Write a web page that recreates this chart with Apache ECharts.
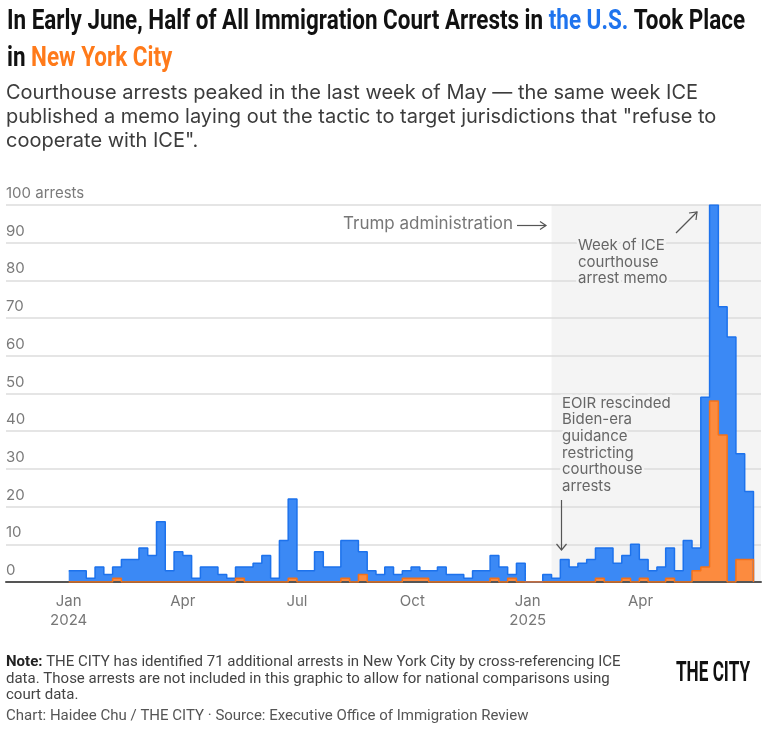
<!DOCTYPE html>
<html>
<head>
<meta charset="utf-8">
<script src="https://cdn.jsdelivr.net/npm/echarts@6/dist/echarts.min.js"></script>
<style>
  html, body { margin: 0; padding: 0; background: #fff; }
  #chart { width: 768px; height: 733px; }
</style>
</head>
<body>
<div id="chart"></div>
<script>
// weekly courthouse arrests, weeks starting Monday 2024-01-01
const firstWeek = Date.UTC(2024, 0, 1)
const usArrests2024 = [3, 3, 1, 4, 2, 4, 6, 6, 9, 7, 16, 3, 8, 7, 1, 4, 4, 2, 1, 4, 4, 5, 7, 1, 11, 22,
  3, 3, 8, 4, 4, 11, 11, 8, 3, 2, 4, 2, 3, 4, 3, 3, 4, 2, 2, 1, 3, 3, 7, 4, 2, 5]
const usArrests2025 = [0, 0, 2, 1, 6, 4, 5, 6, 9, 9, 5, 7, 10, 6, 3, 4, 9, 3, 11, 9, 49, 100, 73, 65, 34, 24]
const nycArrests2024 = [0, 0, 0, 0, 0, 1, 0, 0, 0, 0, 0, 0, 0, 0, 0, 0, 0, 0, 0, 1, 0, 0, 0, 0, 0, 1,
  0, 0, 0, 0, 0, 1, 0, 2, 0, 0, 0, 0, 1, 1, 1, 0, 0, 0, 0, 0, 0, 0, 1, 0, 1, 0]
const nycArrests2025 = [0, 0, 0, 0, 0, 0, 0, 0, 1, 0, 0, 1, 0, 1, 0, 0, 1, 0, 0, 3, 4, 48, 39, 0, 6, 6]
const tickDates = [Date.UTC(2024, 0, 1), Date.UTC(2024, 3, 1), Date.UTC(2024, 6, 1),
  Date.UTC(2024, 9, 1), Date.UTC(2025, 0, 1), Date.UTC(2025, 3, 1)]
const tickLabels = ['Jan\n2024', 'Apr', 'Jul', 'Oct', 'Jan\n2025', 'Apr']
const trumpStart = Date.UTC(2025, 0, 20)
const xMin = Date.UTC(2023, 10, 12)
const xMax = Date.UTC(2025, 6, 6)

const WEEK = 7 * 864e5
const usArrests = usArrests2024.concat(usArrests2025)
const nycArrests = nycArrests2024.concat(nycArrests2025)
// step 'end' keeps each week's value until the next week starts
const toSteps = vals => vals.map((v, i) => [firstWeek + i * WEEK, v])
  .concat([[firstWeek + vals.length * WEEK, 0]])

const sans = 'Inter, "Noto Sans", sans-serif'
const heavy = 'Roboto, "Liberation Sans", sans-serif'

// squeeze the bold headline font to the condensed width of the original
const ctx = document.createElement('canvas').getContext('2d')
const squeeze = (text, font, width) => {
  ctx.font = font
  return width / ctx.measureText(text).width
}
const titleLine1 = 'In Early June, Half of All Immigration Court Arrests in the U.S. Took Place'
const titleScale = squeeze(titleLine1, 'bold 28px ' + heavy, 738)
const logoScale = squeeze('THE CITY', 'bold 28px ' + heavy, 74)

const halo = (x, y, text, size, lh) => [
  {
    type: 'text', x, y, z: 10, silent: true,
    style: { text, fontFamily: sans, fontSize: size, lineHeight: lh, fill: '#f4f4f4', stroke: '#f4f4f4', lineWidth: 5 }
  },
  {
    type: 'text', x, y, z: 11, silent: true,
    style: { text, fontFamily: sans, fontSize: size, lineHeight: lh, fill: '#666' }
  }
]
const arrow = points => ({
  type: 'polyline', z: 11, silent: true,
  shape: { points },
  style: { stroke: '#555', lineWidth: 1.2, fill: null }
})

const chart = echarts.init(document.getElementById('chart'))
const option = {
  animation: false,
  grid: { left: 6, right: 7, top: 205, bottom: 151 },
  xAxis: {
    type: 'value',
    min: xMin,
    max: xMax,
    z: 3,
    axisLine: { lineStyle: { color: '#555', width: 2 } },
    axisTick: { show: false },
    splitLine: { show: false },
    axisLabel: {
      customValues: tickDates,
      margin: 10,
      color: '#777',
      fontSize: 15,
      lineHeight: 19,
      fontFamily: sans,
      formatter(value) {
        let best = 0
        tickDates.forEach((t, i) => {
          if (Math.abs(t - value) < Math.abs(tickDates[best] - value)) best = i
        })
        return tickLabels[best]
      }
    }
  },
  yAxis: {
    type: 'value',
    min: 0,
    max: 100,
    interval: 10,
    z: 1.5,
    axisLine: { show: false },
    axisTick: { show: false },
    splitLine: { lineStyle: { color: '#dcdcdc', width: 1.5 } },
    axisLabel: {
      inside: true,
      margin: 0,
      verticalAlign: 'bottom',
      padding: [0, 0, 4, 0],
      color: '#7a7a7a',
      fontSize: 15,
      fontFamily: sans,
      formatter: v => (v === 100 ? '100 arrests' : String(v))
    }
  },
  series: [
    {
      name: 'U.S.',
      type: 'line',
      step: 'end',
      symbol: 'none',
      data: toSteps(usArrests),
      lineStyle: { color: '#1d72ec', width: 1.5 },
      areaStyle: { color: '#3b89f5', opacity: 1 },
      markArea: {
        silent: true,
        itemStyle: { color: '#f4f4f4' },
        data: [[{ xAxis: trumpStart }, { xAxis: xMax }]]
      }
    },
    {
      name: 'New York City',
      type: 'line',
      step: 'end',
      symbol: 'none',
      data: toSteps(nycArrests),
      lineStyle: { color: '#f3721a', width: 1.5 },
      areaStyle: { color: '#fc8b3f', opacity: 1 }
    }
  ],
  graphic: [
    {
      type: 'text', x: 7, y: 3, scaleX: titleScale,
      style: {
        text: '{a|In Early June, Half of All Immigration Court Arrests in }{b|the U.S.}{a| Took Place}\n{a|in }{c|New York City}',
        rich: {
          a: { fontFamily: heavy, fontWeight: 'bold', fontSize: 28, lineHeight: 37, fill: '#111' },
          b: { fontFamily: heavy, fontWeight: 'bold', fontSize: 28, lineHeight: 37, fill: '#1f74ee' },
          c: { fontFamily: heavy, fontWeight: 'bold', fontSize: 28, lineHeight: 37, fill: '#ff7a1a' }
        }
      }
    },
    {
      type: 'text', x: 6, y: 81,
      style: {
        text: 'Courthouse arrests peaked in the last week of May \u2014 the same week ICE\npublished a memo laying out the tactic to target jurisdictions that "refuse to\ncooperate with ICE".',
        fontFamily: sans, fontSize: 20, lineHeight: 24, fill: '#3c3c3c'
      }
    },
    {
      type: 'text', x: 343, y: 215, z: 11,
      style: { text: 'Trump administration', fontFamily: sans, fontSize: 17, fill: '#777' }
    },
    arrow([[517, 225.5], [546, 225.5]]),
    arrow([[540, 221.5], [546, 225.5], [540, 229.5]]),
    ...halo(578, 237, 'Week of ICE\ncourthouse\narrest memo', 15, 16.7),
    arrow([[676, 233], [697, 212]]),
    arrow([[689, 213], [697, 212], [696, 220]]),
    ...halo(562, 395, 'EOIR rescinded\nBiden-era\nguidance\nrestricting\ncourthouse\narrests', 15, 16.6),
    arrow([[561.5, 500], [561.5, 550]]),
    arrow([[556.5, 544], [561.5, 550], [566.5, 544]]),
    {
      type: 'text', x: 6, y: 654,
      style: {
        text: '{b|Note:}{n| THE CITY has identified 71 additional arrests in New York City by cross-referencing ICE}\n{n|data. Those arrests are not included in this graphic to allow for national comparisons using}\n{n|court data.}',
        rich: {
          b: { fontFamily: 'Roboto, sans-serif', fontWeight: 'bold', fontSize: 15, lineHeight: 16.5, fill: '#222' },
          n: { fontFamily: 'Roboto, sans-serif', fontSize: 15, lineHeight: 16.5, fill: '#444' }
        }
      }
    },
    {
      type: 'text', x: 6, y: 709,
      style: {
        text: 'Chart: Haidee Chu / THE CITY \u00b7 Source: Executive Office of Immigration Review',
        fontFamily: 'Roboto, sans-serif', fontSize: 15, fill: '#555'
      }
    },
    {
      type: 'text', x: 676, y: 660, scaleX: logoScale,
      style: { text: 'THE CITY', fontFamily: heavy, fontWeight: 'bold', fontSize: 28, fill: '#111' }
    }
  ]
}
chart.setOption(option)
</script>
</body>
</html>
